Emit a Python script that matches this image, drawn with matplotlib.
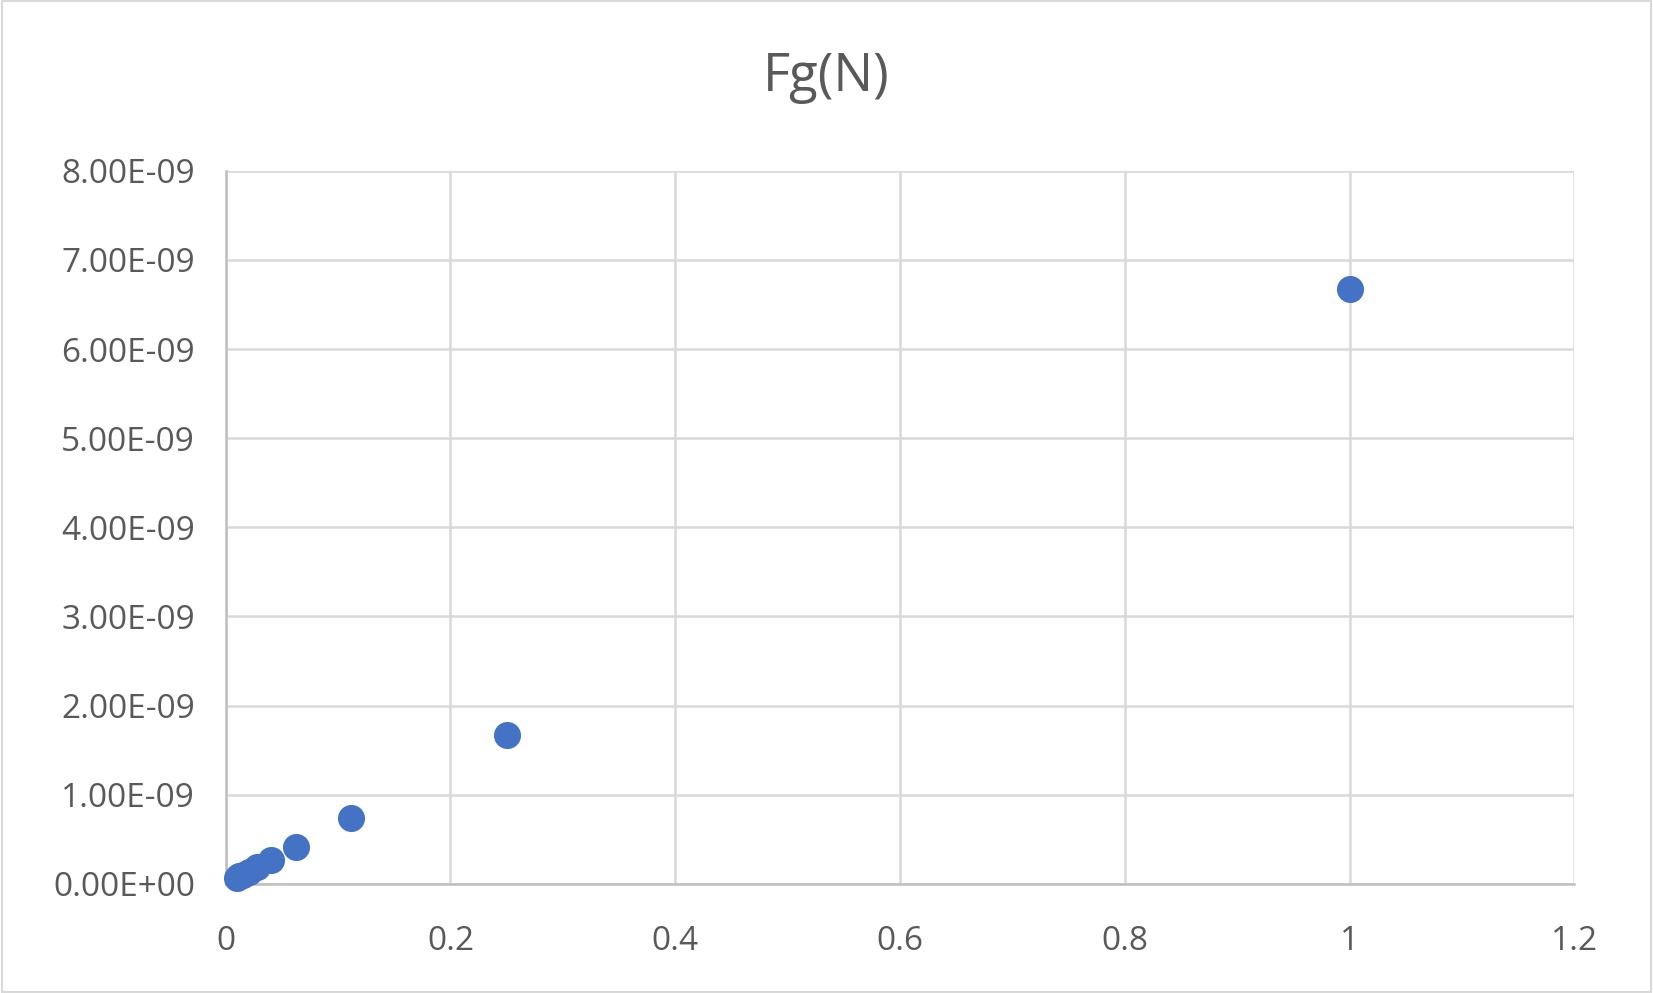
import matplotlib
matplotlib.use("Agg")
import matplotlib.pyplot as plt

x_vals = [1.0, 0.25, 0.1111, 0.0625, 0.04, 0.0278, 0.0204, 0.0156, 0.0123, 0.01]
fg_vals = [6.67e-9, 1.6675e-9, 7.41e-10, 4.17e-10, 2.67e-10, 1.85e-10, 1.36e-10, 1.04e-10, 8.2e-11, 6.67e-11]
x_ticks = [0, 0.2, 0.4, 0.6, 0.8, 1, 1.2]
x_labels = ["0", "0.2", "0.4", "0.6", "0.8", "1", "1.2"]
y_ticks = [i * 1e-9 for i in range(9)]
y_labels = ["0.00E+00"] + [f"{i}.00E-09" for i in range(1, 9)]

plt.rcParams['font.family'] = ['Open Sans', 'DejaVu Sans']
fig = plt.figure(figsize=(16.53, 9.93), dpi=100)
ax = fig.add_axes([0.1365, 0.11, 0.816, 0.718])
ax.scatter(x_vals, fg_vals, s=380, color='#4472C4', zorder=3, linewidths=0, clip_on=False)
ax.set_xlim(0, 1.2)
ax.set_ylim(0, 8e-9)
ax.set_xticks(x_ticks)
ax.set_xticklabels(x_labels)
ax.set_yticks(y_ticks)
ax.set_yticklabels(y_labels)
ax.tick_params(length=0, labelsize=24, colors='#595959')
ax.tick_params(axis='x', pad=30)
ax.tick_params(axis='y', pad=22)
ax.grid(True, color='#D9D9D9', linewidth=1.8)
ax.set_axisbelow(True)
for s in ['top', 'right']:
    ax.spines[s].set_visible(False)
for s in ['left', 'bottom']:
    ax.spines[s].set_color('#BFBFBF')
    ax.spines[s].set_linewidth(1.8)
fig.text(0.5, 0.922, "Fg(N)", ha='center', va='center', fontsize=38, color='#595959')
fig.patches.append(plt.Rectangle((0.001, 0.001), 0.998, 0.998, transform=fig.transFigure,
                                 fill=False, edgecolor='#D9D9D9', linewidth=1.5))
fig.savefig("out.png", dpi=100)
